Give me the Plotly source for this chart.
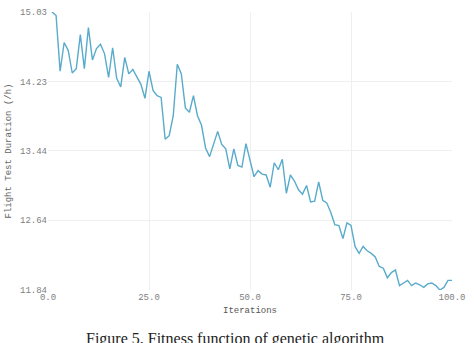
import plotly.graph_objects as go

# Fitness value per iteration of the genetic algorithm
iterations = list(range(1, 101))
duration = [
    15.03, 14.99, 14.35, 14.68, 14.59, 14.33, 14.38, 14.77, 14.38, 14.85,
    14.48, 14.61, 14.66, 14.55, 14.28, 14.62, 14.27, 14.17, 14.51, 14.32,
    14.37, 14.28, 14.20, 14.04, 14.35, 14.13, 14.07, 14.05, 13.57, 13.61,
    13.84, 14.43, 14.32, 13.93, 13.88, 14.07, 13.84, 13.73, 13.47, 13.37,
    13.52, 13.66, 13.51, 13.46, 13.23, 13.46, 13.27, 13.25, 13.52, 13.33,
    13.14, 13.21, 13.17, 13.16, 13.02, 13.30, 13.22, 13.34, 12.95, 13.16,
    13.09, 12.99, 12.94, 13.04, 12.85, 12.86, 13.08, 12.87, 12.84, 12.73,
    12.59, 12.58, 12.43, 12.61, 12.58, 12.34, 12.26, 12.34, 12.29, 12.26,
    12.22, 12.11, 12.09, 11.98, 12.04, 12.07, 11.89, 11.92, 11.95, 11.89,
    11.92, 11.90, 11.87, 11.91, 11.92, 11.89, 11.84, 11.87, 11.95, 11.95,
]

x_ticks = [0, 25, 50, 75, 100]
x_tick_text = ["0.0", "25.0", "50.0", "75.0", "100.0"]
y_ticks = [15.03, 14.23, 13.44, 12.64, 11.84]
y_tick_text = ["15.03", "14.23", "13.44", "12.64", "11.84"]

mono = "Liberation Mono"

fig = go.Figure()
fig.add_trace(go.Scatter(
    x=iterations, y=duration, mode="lines",
    line=dict(color="#58abcb", width=1.4),
    showlegend=False,
))

fig.update_layout(
    width=474, height=343,
    margin=dict(l=43, r=16, t=8, b=53),
    paper_bgcolor="white", plot_bgcolor="white",
    font=dict(family=mono, size=9, color="#808080"),
    xaxis=dict(
        range=[0, 100], tickvals=x_ticks, ticktext=x_tick_text,
        showgrid=True, gridcolor="#efefef", gridwidth=1,
        zeroline=False, showline=False, ticks="", ticklen=0,
        tickfont=dict(family=mono, size=9, color="#808080"),
        title=dict(text="Iterations", standoff=4,
                   font=dict(family=mono, size=9, color="#555555")),
    ),
    yaxis=dict(
        range=[11.84, 15.03], tickvals=y_ticks, ticktext=y_tick_text,
        showgrid=True, gridcolor="#efefef", gridwidth=1,
        zeroline=False, showline=False, ticks="", ticklen=0,
        tickfont=dict(family=mono, size=9, color="#808080"),
        title=dict(text="Flight Test Duration (/h)", standoff=6,
                   font=dict(family=mono, size=9, color="#666666")),
    ),
)

# Figure caption under the chart
fig.add_annotation(
    text="Figure 5. Fitness function of genetic algorithm",
    xref="paper", yref="paper", x=0.5, y=0, yshift=-38, xshift=-15,
    xanchor="center", yanchor="top", showarrow=False,
    font=dict(family="Liberation Serif", size=16, color="#222222"),
)

fig.write_html("out.html")
